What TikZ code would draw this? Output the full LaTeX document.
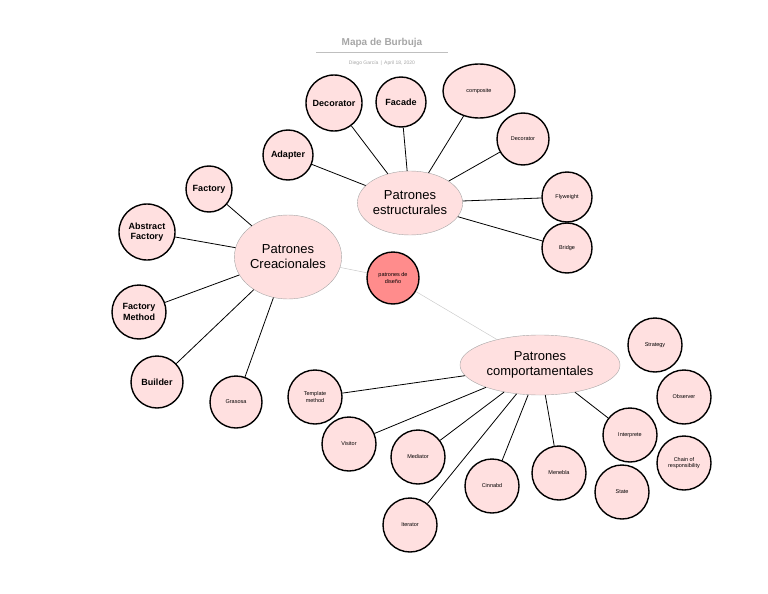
\documentclass[tikz,border=0pt]{standalone}
\usepackage{fontspec}
\setmainfont{Liberation Sans}
\usetikzlibrary{shapes.geometric}

\begin{document}
\begin{tikzpicture}[
    x=1pt, y=-1pt,
    bubble/.style={circle, draw, line width=1.4pt, fill=red!12, minimum size=#1, inner sep=0pt, align=center, font=\fontsize{5.5}{6.5}\selectfont},
    bigbubble/.style={bubble=#1, font=\fontsize{9}{10.5}\selectfont\bfseries},
    hub/.style={ellipse, draw=gray!70, fill=red!12, inner sep=0pt, align=center, font=\fontsize{13}{15}\selectfont},
    link/.style={line width=0.8pt},
    soft/.style={draw=gray!40, line width=0.5pt}
]
    \useasboundingbox (0,0) rectangle (768,594);

    % Title
    \node[text=gray!70, font=\fontsize{10}{12}\selectfont\bfseries] (title) at (382,43) {Mapa de Burbuja};
    \draw[gray!50, line width=0.8pt] (316,52) -- (448,52);
    \node[text=gray!70, font=\fontsize{5}{6}\selectfont] (author) at (382,63) {Diego García \,|\, April 18, 2020};

    % Center
    \node[bubble=52pt, fill=red!45] (diseno) at (393,278) {patrones de\\diseño};

    % Hubs
    \node[hub, minimum width=104pt, minimum height=84pt] (creacional) at (288,257) {Patrones\\Creacionales};
    \node[hub, minimum width=94pt, minimum height=64pt] (estructural) at (410,203) {Patrones\\estructurales};
    \node[hub, minimum width=160pt, minimum height=60pt] (comportamental) at (540,365) {Patrones\\comportamentales};

    % Estructurales
    \node[bigbubble=56pt] (decorator) at (334,103) {Decorator};
    \node[bigbubble=50pt] (facade) at (401,102) {Facade};
    \node[bubble, ellipse, minimum width=72pt, minimum height=54pt] (composite) at (479,91) {composite};
    \node[bubble=52pt] (decoratorb) at (523,139) {Decorator};
    \node[bigbubble=50pt] (adapter) at (288,155) {Adapter};
    \node[bubble=50pt] (flyweight) at (567,197) {Flyweight};
    \node[bubble=50pt] (bridge) at (567,248) {Bridge};

    % Creacionales
    \node[bigbubble=46pt] (factory) at (209,189) {Factory};
    \node[bigbubble=56pt] (abstract) at (147,232) {Abstract\\Factory};
    \node[bigbubble=54pt] (method) at (139,312) {Factory\\Method};
    \node[bigbubble=52pt] (builder) at (157,382) {Builder};
    \node[bubble=52pt] (grasosa) at (236,402) {Grasosa};

    % Comportamentales
    \node[bubble=54pt] (strategy) at (655,345) {Strategy};
    \node[bubble=54pt] (observer) at (684,397) {Observer};
    \node[bubble=54pt] (template) at (315,397) {Template\\method};
    \node[bubble=54pt] (visitor) at (349,444) {Visitor};
    \node[bubble=54pt] (interprete) at (630,435) {Interprete};
    \node[bubble=54pt] (chain) at (684,463) {Chain of\\responsibility};
    \node[bubble=54pt] (mediator) at (418,457) {Mediator};
    \node[bubble=54pt] (command) at (492,486) {Cinnabd};
    \node[bubble=54pt] (memento) at (559,473) {Menebla};
    \node[bubble=54pt] (state) at (622,492) {State};
    \node[bubble=54pt] (iterator) at (410,525) {Iterator};

    % Links
    \draw[soft] (diseno) -- (creacional);
    \draw[soft] (diseno) -- (comportamental);
    \foreach \leaf in {decorator, facade, composite, decoratorb, adapter, flyweight, bridge}
        \draw[link] (estructural) -- (\leaf);
    \foreach \leaf in {factory, abstract, method, builder, grasosa}
        \draw[link] (creacional) -- (\leaf);
    \foreach \leaf in {template, visitor, mediator, iterator, command, memento, interprete}
        \draw[link] (comportamental) -- (\leaf);
\end{tikzpicture}
\end{document}
